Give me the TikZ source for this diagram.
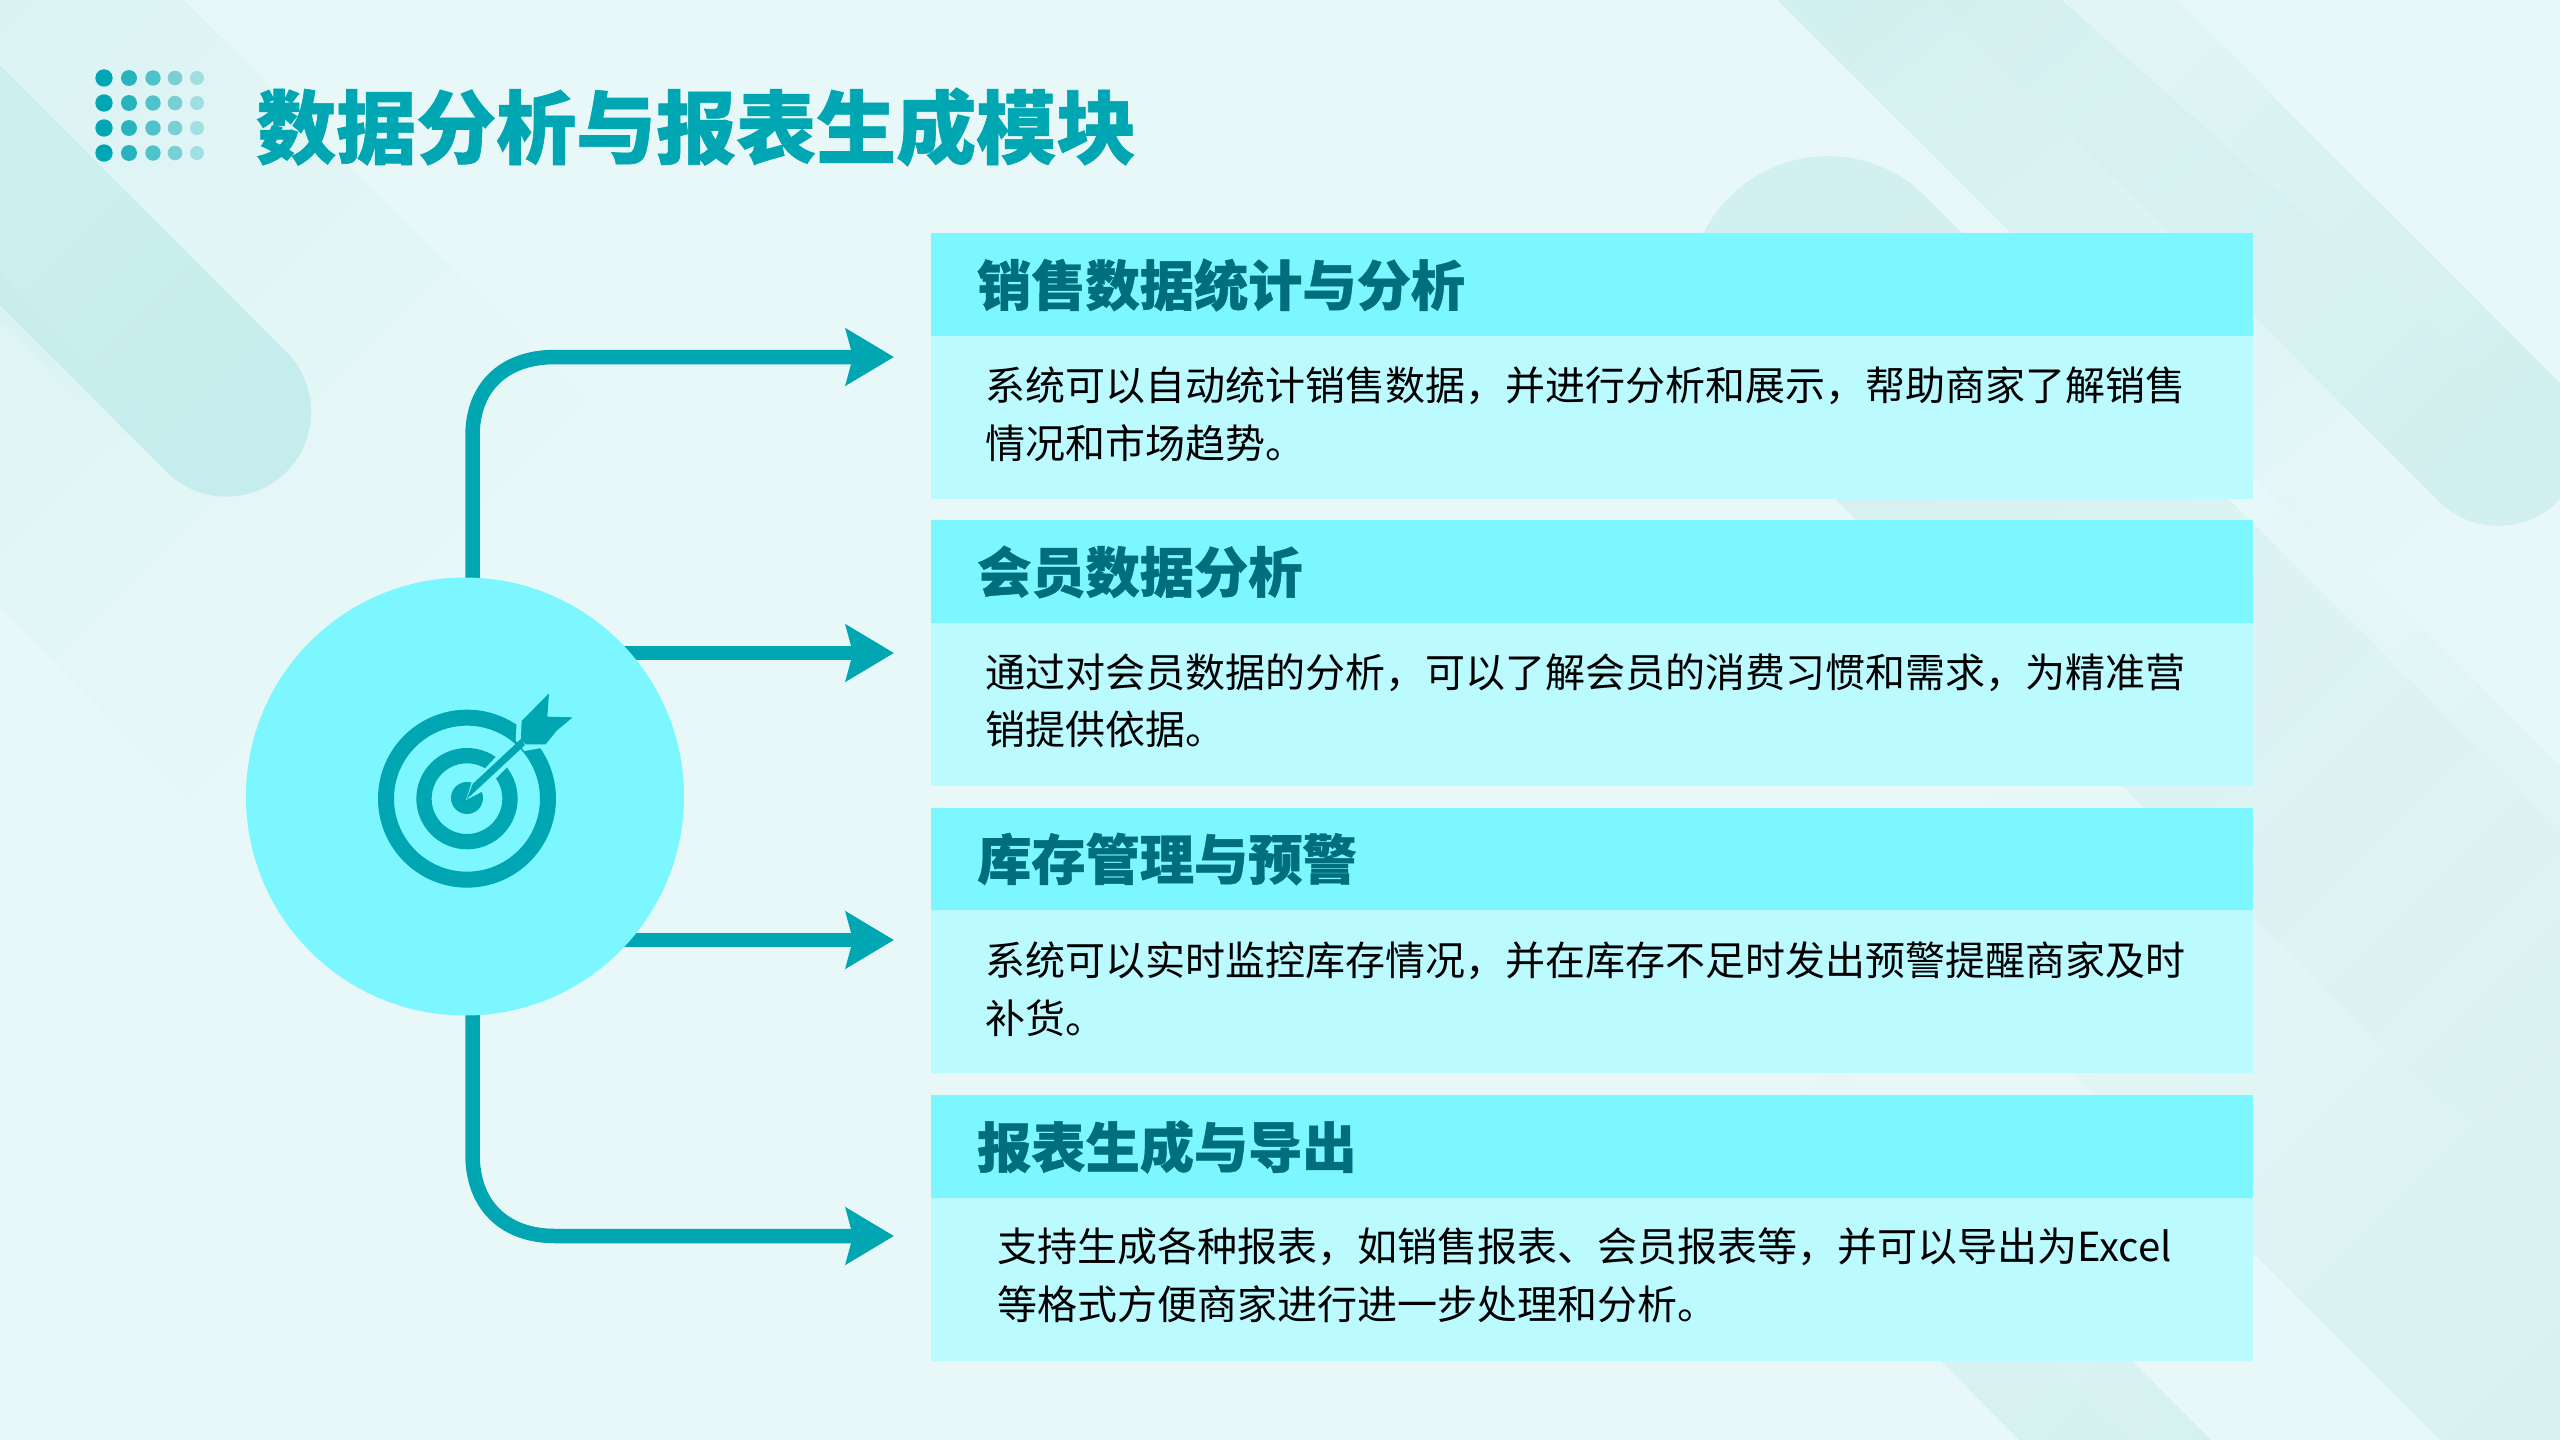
\documentclass[tikz,border=0pt]{standalone}
\usepackage{fontspec}
\usetikzlibrary{arrows.meta,fadings,backgrounds}
\setmainfont[BoldFeatures={FakeBold=0.8}]{Noto Sans CJK SC}
\definecolor{bgbase}{HTML}{E8F8F8}
\definecolor{teal}{HTML}{00A6B2}
\definecolor{hubc}{HTML}{7CF6FF}
\definecolor{bodyc}{HTML}{BBFAFF}
\definecolor{headtxt}{HTML}{006E7C}
\definecolor{bandl}{HTML}{C6EDED}
\definecolor{bandr}{HTML}{D2F0EF}
\tikzfading[name=fdout,left color=transparent!0,right color=transparent!100]
\tikzfading[name=fdin,left color=transparent!100,right color=transparent!0]
\tikzfading[name=fdsoft,left color=transparent!60,right color=transparent!0]
\tikzset{
 hdrbox/.style={draw=none,fill=hubc,rectangle,inner sep=0pt,minimum width=1322pt,minimum height=103pt,anchor=north west},
 bodybox/.style={draw=none,fill=bodyc,rectangle,inner sep=0pt,minimum width=1322pt,minimum height=163pt,anchor=north west},
 hdrtxt/.style={inner sep=0pt,anchor=west,text=headtxt,font=\fontsize{54.2}{60}\selectfont\bfseries},
 bodytxt/.style={inner sep=0pt,anchor=west,align=left,text=black,font=\fontsize{40}{57.5}\selectfont},
 link/.style={draw=teal,line width=14.5pt,-{Stealth[length=48pt,width=56pt,inset=7pt]}},
 fadeband/.style={fading angle=-45,fill=bandr},
 dot/.style={fill=teal,circle,inner sep=0pt}
}
\begin{document}
\begin{tikzpicture}[x=1pt,y=-1pt]
\useasboundingbox (0,0) rectangle (2560,1440);
% nodes
\node[inner sep=0pt,anchor=west,text=teal,font=\fontsize{80}{88}\selectfont\bfseries] (title) at (256,127) {数据分析与报表生成模块};
\foreach \cx/\rr/\op [count=\i] in {104/8.7/1,129/8/.82,153/7.7/.64,175/7.3/.46,197/7/.28}
  \foreach \cy [count=\j] in {78,103,128,153}
    \node[dot,minimum size=2*\rr pt,opacity=\op] (dot\i\j) at (\cx,\cy) {};
\node[circle,fill=hubc,inner sep=0pt,minimum size=438pt] (hub) at (465,796.5) {};
\node[hdrbox] (h1) at (931,233) {};
\node[bodybox] (b1) at (931,336) {};
\node[hdrbox] (h2) at (931,520) {};
\node[bodybox] (b2) at (931,623) {};
\node[hdrbox] (h3) at (931,808) {};
\node[bodybox] (b3) at (931,910) {};
\node[hdrbox] (h4) at (931,1095) {};
\node[bodybox] (b4) at (931,1198) {};
\node[hdrtxt] (ht1) at (977,285) {销售数据统计与分析};
\node[hdrtxt] (ht2) at (977,572) {会员数据分析};
\node[hdrtxt] (ht3) at (977,859) {库存管理与预警};
\node[hdrtxt] (ht4) at (977,1147) {报表生成与导出};
\node[bodytxt] (t1) at (985,414) {系统可以自动统计销售数据，并进行分析和展示，帮助商家了解销售\\情况和市场趋势。};
\node[bodytxt] (t2) at (985,701) {通过对会员数据的分析，可以了解会员的消费习惯和需求，为精准营\\销提供依据。};
\node[bodytxt] (t3) at (985,989) {系统可以实时监控库存情况，并在库存不足时发出预警提醒商家及时\\补货。};
\node[bodytxt] (t4) at (997,1275) {支持生成各种报表，如销售报表、会员报表等，并可以导出为Excel\\等格式方便商家进行进一步处理和分析。};
\coordinate (a1) at (894,357);
\coordinate (a2) at (894,653);
\coordinate (a3) at (894,940);
\coordinate (a4) at (894,1236);
% icon
\begin{scope}[shift={(340,660)},x=0.3333pt,y=-0.3333pt]
 \fill[teal,even odd rule] (381,416) circle[radius=267] (381,416) circle[radius=219];
 \fill[teal,even odd rule] (381,416) circle[radius=152] (381,416) circle[radius=106];
 \fill[teal] (381,414) circle[radius=48];
 \fill[hubc] (531,170)--(527,241)--(553,273)--(604,264)--(700,250)--(700,100)--(531,100)--cycle;
 \fill[hubc] (378,420)--(395,368)--(475,283)--(505,318)--(432,392)--cycle;
 \fill[teal] (380,418)--(398,372)--(545,235)--(555,255)--cycle;
 \fill[teal] (545,183)--(627,100)--(622,170)--(698,172)--(650,212)--(617,253)--(557,253)--(543,235)--cycle;
\end{scope}
\begin{scope}[on background layer]
 \fill[bgbase] (0,0) rectangle (2560,1440);
 % left bands
 \fill[fadeband,path fading=fdout,fill=bandl!50!bgbase] (-100,-296)--(600,404)--(202,802)--(-498,102)--cycle;
 \fill[fadeband,path fading=fdsoft,fill=bandl,rounded corners=85pt] (347,412)--(-273,-208)--(-393,-88)--(227,532)--cycle;
 \fill[fadeband,path fading=fdout,fill=bandl,opacity=.5] (-200,71)--(190,461)--(165,486)--(-200,121)--cycle;
 % right bands
 \fill[fadeband,path fading=fdout,fill=bandr] (1682,-100)--(2400,618)--(2570,448)--(1955,-100)--cycle;
 \fill[fadeband,path fading=fdin,fill=bandr,rounded corners=85pt] (2622,442)--(1922,-258)--(1802,-138)--(2502,562)--cycle;
 \fill[fadeband,path fading=fdout,rounded corners=140pt,fill=bandr] (1638,293)--(2538,1193)--(2736,995)--(1836,95)--cycle;
 \fill[fadeband,path fading=fdin,fill=bandr] (1900,892)--(2700,1692)--(3100,1292)--(2300,492)--cycle;
 \fill[fadeband,path fading=fdin,fill=bandr] (1700,1119)--(2200,1619)--(2296,1523)--(1796,1023)--cycle;
 \fill[fadeband,path fading=fdin,fill=bandr,opacity=.7] (1700,1119)--(2200,1619)--(2253,1566)--(1753,1066)--cycle;
 % connectors
 \draw[link] ([shift={(7.5,3)}]hub.north) -- (472.5,436) .. controls (472.5,387) and (504,357) .. (555,357) -- (a1);
 \draw[link] (hub.center |- a2) -- (a2);
 \draw[link] (hub.center |- a3) -- (a3);
 \draw[link] ([shift={(7.5,-3)}]hub.south) -- (472.5,1154) .. controls (472.5,1205) and (504,1236) .. (555,1236) -- (a4);
\end{scope}
\end{tikzpicture}
\end{document}
